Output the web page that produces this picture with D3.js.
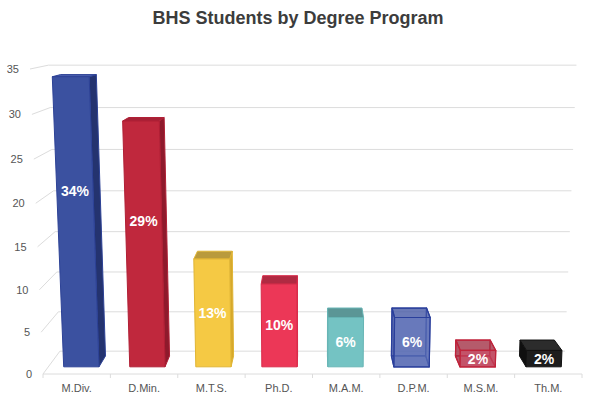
<!DOCTYPE html>
<html><head><meta charset="utf-8">
<script src="https://cdn.jsdelivr.net/npm/d3@7"></script>
<style>body{margin:0;background:#fff}svg{display:block}text{font-family:"Liberation Sans",Arial,Helvetica,sans-serif}</style>
</head><body><svg id="c" width="596" height="411"></svg>
<script>
const title = "BHS Students by Degree Program";
const categories = ["M.Div.","D.Min.","M.T.S.","Ph.D.","M.A.M.","D.P.M.","M.S.M.","Th.M."];
const values = [34, 29, 13, 10, 6, 6, 2, 2];
const percentLabels = ["34%","29%","13%","10%","6%","6%","2%","2%"];
const yTicks = [0,5,10,15,20,25,30,35];
const frontColors = ["#3b51a0","#c0283d","#f5c944","#ec3757","#74c3c3","#5a6db6","#c2405a","#1d1d1d"];
const topColors   = ["#4a5fae","#a62236","#b99a3c","#b02a42","#5b9696","#4a5ca8","#a33449","#2c2c2c"];
const sideColors  = ["#24336f","#8e1a2c","#d6a82c","#c02645","#5aa9a9","#3a4d9e","#a32a40","#0f0f0f"];
const edgeColors  = ["#2d4296","#b01f35","#e0b535","#d92b4a","#67b5b5","#2a3f9c","#c0233b","#111111"];
const translucent = [false,false,false,false,false,true,true,false];

const svg = d3.select("#c");
const x = d3.scaleBand().domain(categories).range([43, 582]);
const y = d3.scaleLinear().domain([0, 35]).range([374, 66.3]);
const ox = 312.5, oy = 10, kz = 0.067, ku = 0.046;
function proj(xw, v, z) {
  const u = v / 35;
  const p = 1 / (1 + kz * z - ku * u);
  return [ox + (xw - ox) * p, oy + (y(v) - oy) * p];
}
const line = pts => "M" + pts.map(p => p.join(",")).join("L") + "Z";

svg.append("text").attr("x", 298).attr("y", 24).attr("text-anchor", "middle")
  .attr("font-size", 18).attr("font-weight", "bold").attr("fill", "#3c3c3c").text(title);

const g = svg.append("g").attr("stroke", "#dcdcdc").attr("fill", "none").attr("stroke-width", 1);
const [x0, x1] = x.range();
yTicks.forEach(t => {
  const bl = proj(x0, t, 1), br = proj(x1, t, 1), fl = proj(x0, t, 0);
  g.append("path").attr("d", `M${fl[0]},${fl[1]}L${bl[0]},${bl[1]}L${br[0]},${br[1]}`);
});
const ffl = proj(x0, 0, 0), ffr = proj(x1, 0, 0);
g.append("path").attr("d", `M${ffl[0]},${ffl[1]}L${ffr[0]},${ffr[1]}`);
const bounds = categories.map(c => x(c)).concat([x1]);
bounds.forEach(b => {
  const p = proj(b, 0, 0);
  g.append("path").attr("d", `M${p[0]},${p[1]}L${p[0]},${p[1] + 4}`);
});

yTicks.forEach(t => {
  const p = proj(x0, t, 0);
  svg.append("text").attr("x", p[0] - 11).attr("y", p[1] + 4).attr("text-anchor", "end")
    .attr("font-size", 11).attr("fill", "#555").text(t);
});
categories.forEach(c => {
  svg.append("text").attr("x", x(c) + x.bandwidth() / 2).attr("y", 392).attr("text-anchor", "middle")
    .attr("font-size", 11).attr("fill", "#555").text(c);
});

const zf = 0.3, zb = 0.78, barW = 36;
const bars = svg.append("g");
categories.forEach((c, i) => {
  const v = values[i];
  const cx = x(c) + x.bandwidth() / 2;
  const xl = cx - barW / 2, xr = cx + barW / 2;
  const P = (xx, vv, zz) => proj(xx, vv, zz);
  const faces = {
    back:  [P(xl,0,zb),P(xr,0,zb),P(xr,v,zb),P(xl,v,zb)],
    bottom:[P(xl,0,zf),P(xr,0,zf),P(xr,0,zb),P(xl,0,zb)],
    left:  [P(xl,0,zf),P(xl,0,zb),P(xl,v,zb),P(xl,v,zf)],
    right: [P(xr,0,zf),P(xr,0,zb),P(xr,v,zb),P(xr,v,zf)],
    top:   [P(xl,v,zf),P(xr,v,zf),P(xr,v,zb),P(xl,v,zb)],
    front: [P(xl,0,zf),P(xr,0,zf),P(xr,v,zf),P(xl,v,zf)]
  };
  const sideName = cx < ox ? "right" : "left";
  const gb = bars.append("g");
  if (translucent[i]) {
    const order = ["back","bottom", sideName === "right" ? "left" : "right", sideName, "top", "front"];
    order.forEach(f => {
      const col = f === "top" ? topColors[i] : (f === "front" ? frontColors[i] : sideColors[i]);
      gb.append("path").attr("d", line(faces[f])).attr("fill", col)
        .attr("fill-opacity", f === "front" ? 0.75 : 0.55)
        .attr("stroke", edgeColors[i]).attr("stroke-width", 1.2).attr("stroke-linejoin", "round");
    });
  } else {
    [[sideName, sideColors[i]], ["top", topColors[i]], ["front", frontColors[i]]].forEach(([f, col]) => {
      gb.append("path").attr("d", line(faces[f])).attr("fill", col)
        .attr("stroke", edgeColors[i]).attr("stroke-width", 1).attr("stroke-linejoin", "round");
    });
  }
  const ft = P(cx, v, zf), fb = P(cx, 0, zf);
  const mid = (ft[1] + fb[1]) / 2;
  const ly = mid - Math.max(0, 310 - mid) * 0.35;
  const lv = y.invert(ly);
  const lp = proj(cx, Math.max(0, Math.min(v, lv)), zf);
  svg.append("text").attr("x", lp[0]).attr("y", ly).attr("dy", "0.35em").attr("text-anchor", "middle")
    .attr("font-size", 14).attr("font-weight", "bold").attr("fill", "#fff").text(percentLabels[i]);
});
</script></body></html>
